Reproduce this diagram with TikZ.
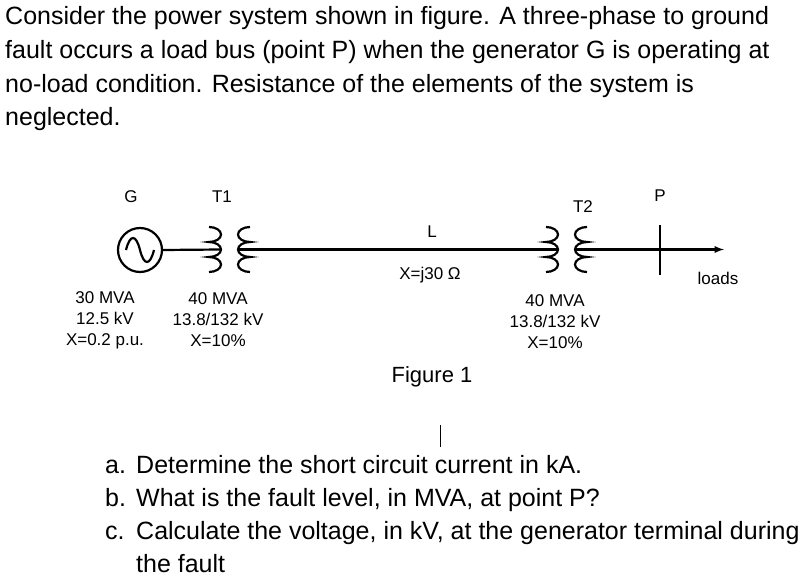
\documentclass[tikz,border=0pt]{standalone}
\usepackage{fontspec}
\setmainfont{Liberation Sans}
\begin{document}
\begin{tikzpicture}[x=1pt,y=1pt,
  big/.style={font=\fontsize{25}{34}\selectfont,inner sep=0,anchor=base west},
  small/.style={font=\fontsize{17}{21}\selectfont,inner sep=0,align=center},
  wire/.style={line width=2.2pt},
  ]
\useasboundingbox (0,0) rectangle (811,576);
% paragraph
\node[big] (t1) at (5,551) {Consider the power system shown in figure. A three-phase to ground};
\node[big] (t2) at (5,517) {fault occurs a load bus (point P) when the generator G is operating at};
\node[big] (t3) at (5,483) {no-load condition. Resistance of the elements of the system is};
\node[big] (t4) at (5,450) {neglected.};
% generator
\node[draw,wire,circle,minimum size=44pt,inner sep=0] (G) at (140,326) {};
\draw[wire] (126,326) .. controls (130,342) and (136,342) .. (140,326) .. controls (144,310) and (150,310) .. (154,326);
\node[small] (Gl) at (131,379) {G};
% T1
\draw[wire] (209,349) arc[start angle=90,end angle=-90,x radius=12,y radius=7.5]
  arc[start angle=90,end angle=-90,x radius=12,y radius=7.5]
  arc[start angle=90,end angle=-90,x radius=12,y radius=7.5];
\draw[wire] (250,349) arc[start angle=90,end angle=270,x radius=12,y radius=7.5]
  arc[start angle=90,end angle=270,x radius=12,y radius=7.5]
  arc[start angle=90,end angle=270,x radius=12,y radius=7.5];
\coordinate (T1a) at (221,326.5);
\coordinate (T1b) at (238,326.5);
\node[small] (T1l) at (222,379) {T1};
% T2
\draw[wire] (546,349) arc[start angle=90,end angle=-90,x radius=12,y radius=7.5]
  arc[start angle=90,end angle=-90,x radius=12,y radius=7.5]
  arc[start angle=90,end angle=-90,x radius=12,y radius=7.5];
\draw[wire] (587,349) arc[start angle=90,end angle=270,x radius=12,y radius=7.5]
  arc[start angle=90,end angle=270,x radius=12,y radius=7.5]
  arc[start angle=90,end angle=270,x radius=12,y radius=7.5];
\coordinate (T2a) at (558,326.5);
\coordinate (T2b) at (575,326.5);
\node[small] (T2l) at (583,369) {T2};
% lines
\draw[wire] (G.east) -- (T1a);
\draw[wire] (T1b) -- (T2a);
\coordinate (end) at (724,326.5);
\draw[wire,-latex] (T2b) -- (end);
\draw[wire] (660,351) -- (660,301);
\node[small] (Pl) at (660,380) {P};
\node[small] (ld) at (718,298) {loads};
\node[small] (Ll) at (432,344) {L};
\node[small] (Xl) at (430,301) {X=j30 Ω};
% ratings
\node[small] (g1) at (105,256) {30 MVA\\12.5 kV\\X=0.2 p.u.};
\node[small] (r1) at (218,256) {40 MVA\\13.8/132 kV\\X=10\%};
\node[small] (r2) at (555,254) {40 MVA\\13.8/132 kV\\X=10\%};
\node[font=\fontsize{22}{22}\selectfont,inner sep=0] (fig) at (432,199) {Figure 1};
\draw[line width=0.9pt] (440,151) -- (440,129);
% questions
\node[big] (al) at (105,103) {a.};
\node[big] (a) at (136,103) {Determine the short circuit current in kA.};
\node[big] (bl) at (105,70) {b.};
\node[big] (b) at (136,70) {What is the fault level, in MVA, at point P?};
\node[big] (cl) at (105,37) {c.};
\node[big] (c) at (136,37) {Calculate the voltage, in kV, at the generator terminal during};
\node[big] (d) at (136,4) {the fault};
\end{tikzpicture}
\end{document}
